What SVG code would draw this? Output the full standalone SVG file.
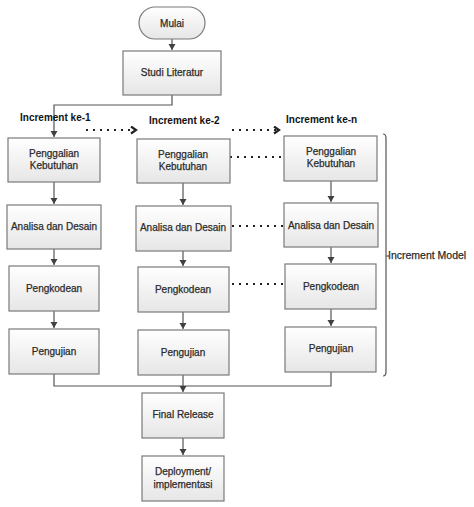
<svg xmlns="http://www.w3.org/2000/svg" width="474" height="507" viewBox="0 0 474 507">
<defs>
<linearGradient id="g" x1="0" y1="0" x2="0" y2="1">
<stop offset="0" stop-color="#ffffff"/>
<stop offset="1" stop-color="#e6e6e6"/>
</linearGradient>
<marker id="ah" markerWidth="8" markerHeight="8" refX="6" refY="3.5" orient="auto" markerUnits="userSpaceOnUse">
<path d="M0,0 L6,3.5 L0,7 Z" fill="#404040"/>
</marker>
<marker id="chev" markerWidth="10" markerHeight="10" refX="6" refY="4" orient="auto" markerUnits="userSpaceOnUse">
<path d="M1,0.5 L6,4 L1,7.5" fill="none" stroke="#222" stroke-width="2.2"/>
</marker>
</defs>
<style>
.box{fill:url(#g);stroke:#7a7a7a;stroke-width:1.2}
.t{font-family:"Liberation Sans",Arial,sans-serif;font-size:10px;fill:#2b2b2b;stroke:#2b2b2b;stroke-width:0.25;text-anchor:middle}
.b{font-family:"Liberation Sans",Arial,sans-serif;font-size:10px;font-weight:bold;fill:#111}
.m{font-family:"Liberation Sans",Arial,sans-serif;font-size:10.5px;fill:#2b2b2b;stroke:#2b2b2b;stroke-width:0.25}
.ln{fill:none;stroke:#555;stroke-width:1.2}
.dot{fill:none;stroke:#222;stroke-width:2;stroke-dasharray:2 5}
</style>
<rect width="474" height="507" fill="#ffffff"/>

<g id="connectors">
<path class="ln" d="M172,39 V50" marker-end="url(#ah)"/>
<path class="ln" d="M172,95 V105 H54 V137" marker-end="url(#ah)"/>
<path class="ln" d="M54,182 V204" marker-end="url(#ah)"/>
<path class="ln" d="M54,249 V265" marker-end="url(#ah)"/>
<path class="ln" d="M54,311 V328" marker-end="url(#ah)"/>
<path class="ln" d="M183,183 V205" marker-end="url(#ah)"/>
<path class="ln" d="M183,251 V266" marker-end="url(#ah)"/>
<path class="ln" d="M183,312 V329" marker-end="url(#ah)"/>
<path class="ln" d="M331,181 V202" marker-end="url(#ah)"/>
<path class="ln" d="M331,247 V263" marker-end="url(#ah)"/>
<path class="ln" d="M331,309 V326" marker-end="url(#ah)"/>
<path class="ln" d="M54,374 V386 H331 V372"/>
<path class="ln" d="M183,375 V392" marker-end="url(#ah)"/>
<path class="ln" d="M183,438 V455" marker-end="url(#ah)"/>
<path class="dot" d="M86,130 H136" marker-end="url(#chev)"/>
<path class="dot" d="M232,130 H279" marker-end="url(#chev)"/>
<path class="dot" d="M230,157 H283"/>
<path class="dot" d="M232,226 H283"/>
<path class="dot" d="M232,284 H284"/>
<path class="ln" d="M383,134 Q386,134 386,138 V372 Q386,376 383,376"/>
<path class="ln" d="M386,256 H389"/>
</g>

<g id="mulai"><rect class="box" x="139" y="7" width="66" height="32" rx="16" ry="16"/><text class="t" x="172" y="27">Mulai</text></g>
<g id="studi"><rect class="box" x="123" y="51" width="98" height="44"/><text class="t" x="172" y="76">Studi Literatur</text></g>

<g id="label1"><text class="b" x="20" y="121">Increment ke-1</text></g>
<g id="label2"><text class="b" x="149" y="124">Increment ke-2</text></g>
<g id="labeln"><text class="b" x="286" y="123">Increment ke-n</text></g>

<g id="p1"><rect class="box" x="8" y="138" width="92" height="44"/><text class="t" x="54" y="157">Penggalian</text><text class="t" x="54" y="169">Kebutuhan</text></g>
<g id="a1"><rect class="box" x="7" y="205" width="94" height="44"/><text class="t" x="54" y="230">Analisa dan Desain</text></g>
<g id="k1"><rect class="box" x="9" y="266" width="90" height="45"/><text class="t" x="54" y="292">Pengkodean</text></g>
<g id="u1"><rect class="box" x="9" y="329" width="90" height="45"/><text class="t" x="54" y="355">Pengujian</text></g>

<g id="p2"><rect class="box" x="137" y="139" width="93" height="44"/><text class="t" x="183" y="158">Penggalian</text><text class="t" x="183" y="170">Kebutuhan</text></g>
<g id="a2"><rect class="box" x="136" y="206" width="95" height="45"/><text class="t" x="183" y="231">Analisa dan Desain</text></g>
<g id="k2"><rect class="box" x="138" y="267" width="91" height="45"/><text class="t" x="183" y="293">Pengkodean</text></g>
<g id="u2"><rect class="box" x="138" y="330" width="91" height="45"/><text class="t" x="183" y="356">Pengujian</text></g>

<g id="p3"><rect class="box" x="284" y="136" width="93" height="45"/><text class="t" x="331" y="155">Penggalian</text><text class="t" x="331" y="167">Kebutuhan</text></g>
<g id="a3"><rect class="box" x="284" y="203" width="94" height="44"/><text class="t" x="331" y="229">Analisa dan Desain</text></g>
<g id="k3"><rect class="box" x="285" y="264" width="91" height="45"/><text class="t" x="331" y="290">Pengkodean</text></g>
<g id="u3"><rect class="box" x="285" y="327" width="91" height="45"/><text class="t" x="331" y="352">Pengujian</text></g>

<g id="model"><text class="m" x="388" y="259">Increment Model</text></g>

<g id="final"><rect class="box" x="142" y="393" width="82" height="45"/><text class="t" x="183" y="418">Final Release</text></g>
<g id="deploy"><rect class="box" x="142" y="456" width="82" height="45"/><text class="t" x="183" y="475">Deployment/</text><text class="t" x="183" y="488">implementasi</text></g>
</svg>
